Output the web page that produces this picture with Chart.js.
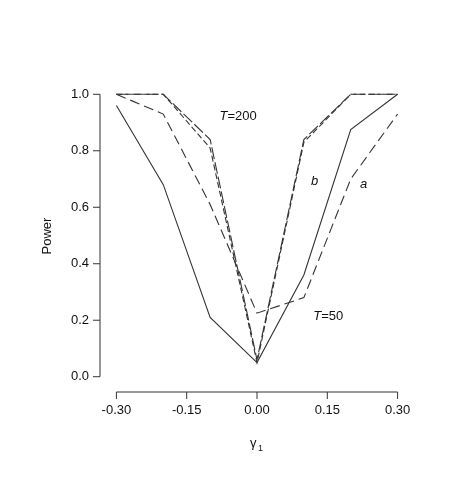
<!DOCTYPE html>
<html><head><meta charset="utf-8">
<script src="https://cdn.jsdelivr.net/npm/chart.js@4"></script>
<style>body{margin:0;background:#fff}#w{width:474px;height:479px}</style>
</head><body><div id="w"><canvas id="c"></canvas></div>
<script>
const gammas = [-0.3, -0.2, -0.1, 0, 0.1, 0.2, 0.3];
const t50Solid = [0.96, 0.68, 0.21, 0.05, 0.36, 0.875, 1.0];
const t50Dashed = [1.0, 0.93, 0.61, 0.225, 0.28, 0.70, 0.93];
const t200Long = [1.0, 1.0, 0.84, 0.06, 0.84, 1.0, 1.0];
const t200Short = [1.0, 1.0, 0.81, 0.05, 0.83, 1.0, 1.0];
const xTicks = [-0.3, -0.15, 0, 0.15, 0.3];
const xTickLabels = ['-0.30', '-0.15', '0.00', '0.15', '0.30'];
const yTicks = [0, 0.2, 0.4, 0.6, 0.8, 1.0];
const yTickLabels = ['0.0', '0.2', '0.4', '0.6', '0.8', '1.0'];
const notes = [
  {x: -0.08, y: 0.92, parts: [['italic','T'],['normal','=200']]},
  {x: 0.115, y: 0.69, parts: [['italic','b']]},
  {x: 0.22, y: 0.68, parts: [['italic','a']]},
  {x: 0.12, y: 0.215, parts: [['italic','T'],['normal','=50']]}
];
const col = '#333';
const mk = (d, dash) => ({data: gammas.map((g,i)=>({x:g,y:d[i]})), borderColor: col, borderWidth: 1.1, borderDash: dash, pointRadius: 0, tension: 0, fill: false});
const axes = {
  id: 'axes',
  afterDraw(ch) {
    const c = ch.ctx, xs = ch.scales.x, ys = ch.scales.y;
    c.save();
    c.strokeStyle = col; c.fillStyle = '#111'; c.lineWidth = 1;
    c.font = '13px Arial, "Liberation Sans", sans-serif';
    const ax = 100, ay = 392;
    c.beginPath();
    c.moveTo(ax, ys.getPixelForValue(0)); c.lineTo(ax, ys.getPixelForValue(1));
    yTicks.forEach(v => { const p = ys.getPixelForValue(v); c.moveTo(ax, p); c.lineTo(ax - 7, p); });
    c.moveTo(xs.getPixelForValue(-0.3), ay); c.lineTo(xs.getPixelForValue(0.3), ay);
    xTicks.forEach(v => { const p = xs.getPixelForValue(v); c.moveTo(p, ay); c.lineTo(p, ay + 7); });
    c.stroke();
    c.textAlign = 'right'; c.textBaseline = 'middle';
    yTicks.forEach((v,i) => c.fillText(yTickLabels[i], ax - 11, ys.getPixelForValue(v)));
    c.textAlign = 'center'; c.textBaseline = 'top';
    xTicks.forEach((v,i) => c.fillText(xTickLabels[i], xs.getPixelForValue(v), ay + 12));
    c.save(); c.translate(47, 236); c.rotate(-Math.PI/2); c.textBaseline = 'middle'; c.fillText('Power', 0, 0); c.restore();
    c.textAlign = 'left'; c.textBaseline = 'alphabetic';
    c.fillText('γ', 250, 447);
    c.font = '9px Arial, "Liberation Sans", sans-serif'; c.fillText('1', 258, 451);
    c.textBaseline = 'middle';
    notes.forEach(n => {
      let x = xs.getPixelForValue(n.x); const y = ys.getPixelForValue(n.y);
      n.parts.forEach(([st, t]) => { c.font = st + ' 13px Arial, "Liberation Sans", sans-serif'; c.fillText(t, x, y); x += c.measureText(t).width; });
    });
    c.restore();
  }
};
new Chart(document.getElementById('c'), {
  type: 'line',
  data: {datasets: [mk(t50Solid, []), mk(t50Dashed, [10,5]), mk(t200Long, [12,3]), mk(t200Short, [6,3])]},
  options: {
    responsive: true, maintainAspectRatio: false, animation: false,
    layout: {padding: {left: 100, top: 83, right: 60, bottom: 91}},
    plugins: {legend: {display: false}, tooltip: {enabled: false}},
    scales: {
      x: {type: 'linear', min: -0.335, max: 0.335, display: false},
      y: {min: -0.04, max: 1.04, display: false}
    }
  },
  plugins: [axes]
});
</script></body></html>
